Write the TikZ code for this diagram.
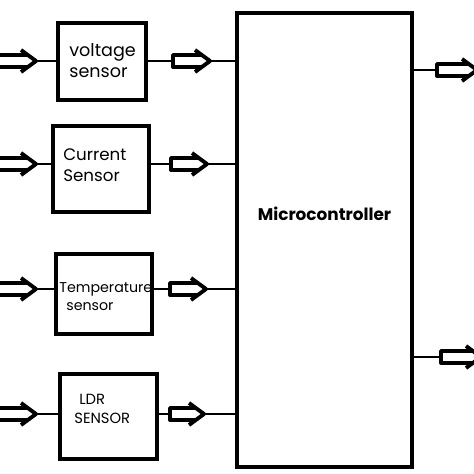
\documentclass[tikz,border=0pt]{standalone}
\usepackage{fontspec}
\setmainfont{Poppins}
\usetikzlibrary{arrows.meta}
\tikzset{
  sensor/.style={draw, line width=1.9pt, inner sep=0pt},
  lbl/.style={anchor=west, align=left, inner sep=0pt, font=\fontsize{9.5}{12}\selectfont},
  mcubox/.style={draw, line width=2.3pt, minimum width=3.5cm, minimum height=9.08cm},
  wire/.style={line width=1.7pt},
  arrowline/.style={line width=2.2pt, line join=round},
  % hollow block arrow, tip at the origin, #1 = total length
  harrow/.pic={
    \fill[white] (-#1,-6) -- (-9,-6) -- (-16,-11) -- (-1,0) -- (-16,11) -- (-9,6) -- (-#1,6) -- cycle;
    \draw[arrowline] (-9,-6) -- (-#1,-6) -- (-#1,6) -- (-9,6);
    \draw[arrowline] (-16,-11) -- (-1,0) -- (-16,11);
  },
}
\begin{document}
\begin{tikzpicture}[x=0.02cm, y=-0.02cm]
  \useasboundingbox (0,0) rectangle (474,474);
  % blocks
  \node[mcubox, label={[yshift=0.52cm, font=\fontsize{9.6}{12}\selectfont\bfseries]center:Microcontroller}] (mcu) at (324.5,240) {};
  \node[sensor, minimum width=1.76cm, minimum height=1.54cm] (volt) at (102,61.5) {};
  \node[sensor, minimum width=1.92cm, minimum height=1.72cm] (cur) at (101,169) {};
  \node[sensor, minimum width=1.92cm, minimum height=1.6cm] (temp) at (104,294) {};
  \node[sensor, minimum width=1.94cm, minimum height=1.7cm] (ldr) at (108.5,416.5) {};
  % texts
  \node[lbl, font=\fontsize{10}{12}\selectfont] (volttxt) at (69,60.5) {voltage\\sensor};
  \node[lbl] (curtxt) at (63,165) {Current\\Sensor};
  \node[lbl, font=\fontsize{8.1}{10.2}\selectfont] (temptxt) at (59,296.5) {Temperature\\\hspace{0.14cm}sensor};
  \node[lbl, font=\fontsize{8.4}{10.8}\selectfont] (ldrtxt) at (74,408.5) {\hspace{0.1cm}LDR\\SENSOR};
  % inputs and links
  \foreach \s/\y/\a/\b in {volt/61/37/38, cur/164/34/37, temp/289/33/37, ldr/414/31/35}{
    \coordinate (in\s) at (0,\y);
    \draw[wire] (in\s) -- (in\s -| \s.west);
    \draw[wire] (in\s -| \s.east) -- (in\s -| mcu.west);
    \pic at (37,\y) {harrow=45};
    \pic at (\a+174,\y) {harrow=\b};
  }
  % outputs
  \foreach \y/\a in {70/478, 357/482}{
    \coordinate (out\y) at (474,\y);
    \draw[wire] (out\y -| mcu.east) -- (out\y);
    \pic at (\a,\y) {harrow=41};
  }
\end{tikzpicture}
\end{document}
